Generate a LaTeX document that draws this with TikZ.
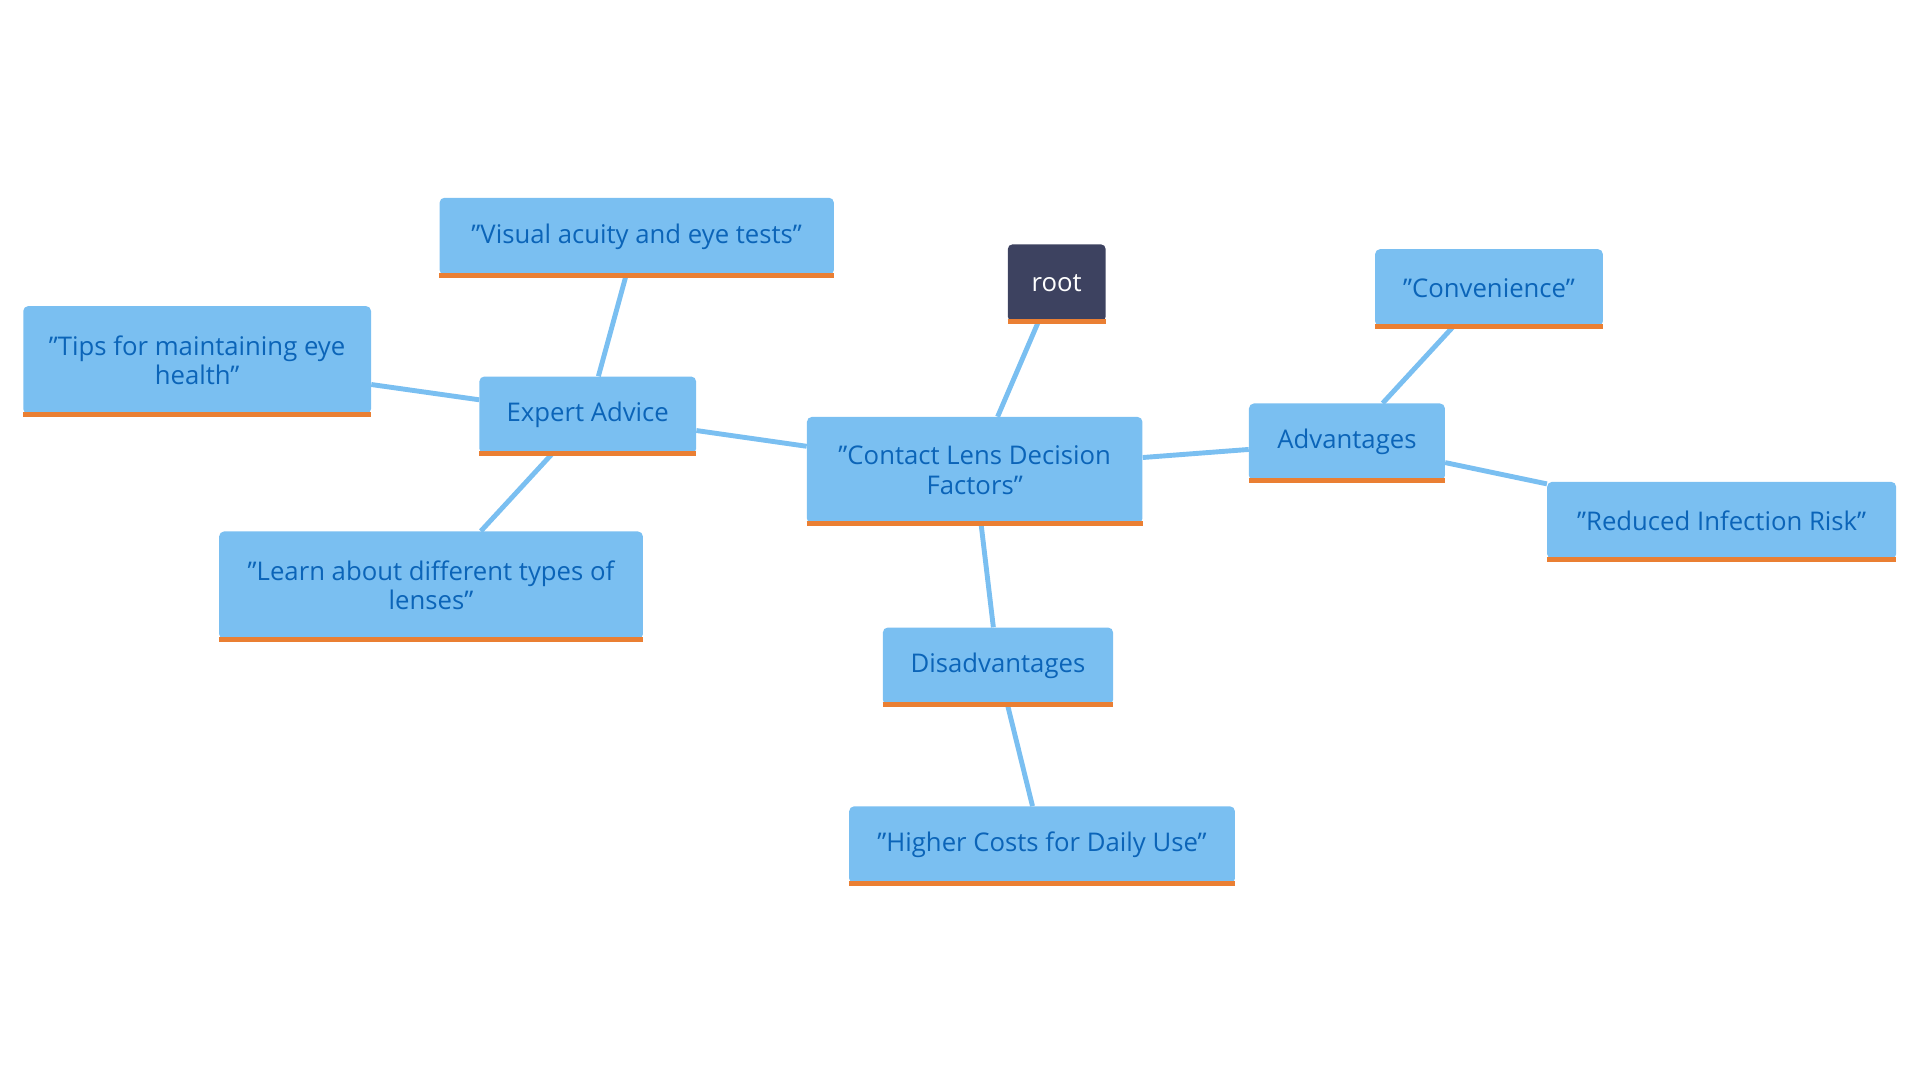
\documentclass[tikz,border=0pt]{standalone}
\usepackage{fontspec}
\setmainfont{Open Sans}
\usetikzlibrary{backgrounds}
\definecolor{boxfill}{HTML}{7ABFF1}
\definecolor{boxtext}{HTML}{0B64B8}
\definecolor{rootfill}{HTML}{3D4260}
\definecolor{barline}{HTML}{EA7F33}
\tikzset{
  topic/.style={fill=boxfill, text=boxtext, rounded corners=4pt, align=center,
    font=\fontsize{21}{24}\selectfont, inner sep=0pt},
  link/.style={draw=boxfill, line width=4pt}
}
\begin{document}
\begin{tikzpicture}[x=1pt,y=-1pt]
    \useasboundingbox (0,0) rectangle (1568,882);
    % boxes
    \node[topic, fill=rootfill, text=white, minimum width=80, minimum height=63] (root) at (863,231) {root};
    \node[topic, minimum width=274, minimum height=87] (factors) at (796,384) {"Contact Lens Decision\\Factors"};
    \node[topic, minimum width=177, minimum height=63] (expert) at (480,339) {Expert Advice};
    \node[topic, minimum width=322, minimum height=63] (visual) at (520,193) {"Visual acuity and eye tests"};
    \node[topic, minimum width=284, minimum height=88] (tips) at (161,294) {"Tips for maintaining eye\\health"};
    \node[topic, minimum width=346, minimum height=88] (learn) at (352,478) {"Learn about different types of\\lenses"};
    \node[topic, minimum width=160, minimum height=63] (adv) at (1100,361) {Advantages};
    \node[topic, minimum width=186, minimum height=63] (conv) at (1216,235) {"Convenience"};
    \node[topic, minimum width=285, minimum height=63] (risk) at (1406,425) {"Reduced Infection Risk"};
    \node[topic, minimum width=188, minimum height=63] (disadv) at (815,544) {Disadvantages};
    \node[topic, minimum width=315, minimum height=63] (costs) at (851,690) {"Higher Costs for Daily Use"};
    % orange underline
    \foreach \n in {root,factors,expert,visual,tips,learn,adv,conv,risk,disadv,costs}
    \draw[barline, line width=4pt] (\n.south west) -- (\n.south east);
    % connectors
    \begin{scope}[on background layer]
    \draw[link] (root.south) ++(-15,0) -- (factors);
    \draw[link] (factors) -- (expert);
    \draw[link] (expert) -- (visual);
    \draw[link] (expert) -- (tips);
    \draw[link] (expert) -- (learn);
    \draw[link] (factors) -- (adv);
    \draw[link] (adv) -- (conv);
    \draw[link] (adv) -- (risk);
    \draw[link] (factors) -- (disadv);
    \draw[link] (disadv) -- (costs);
    \end{scope}
\end{tikzpicture}
\end{document}
